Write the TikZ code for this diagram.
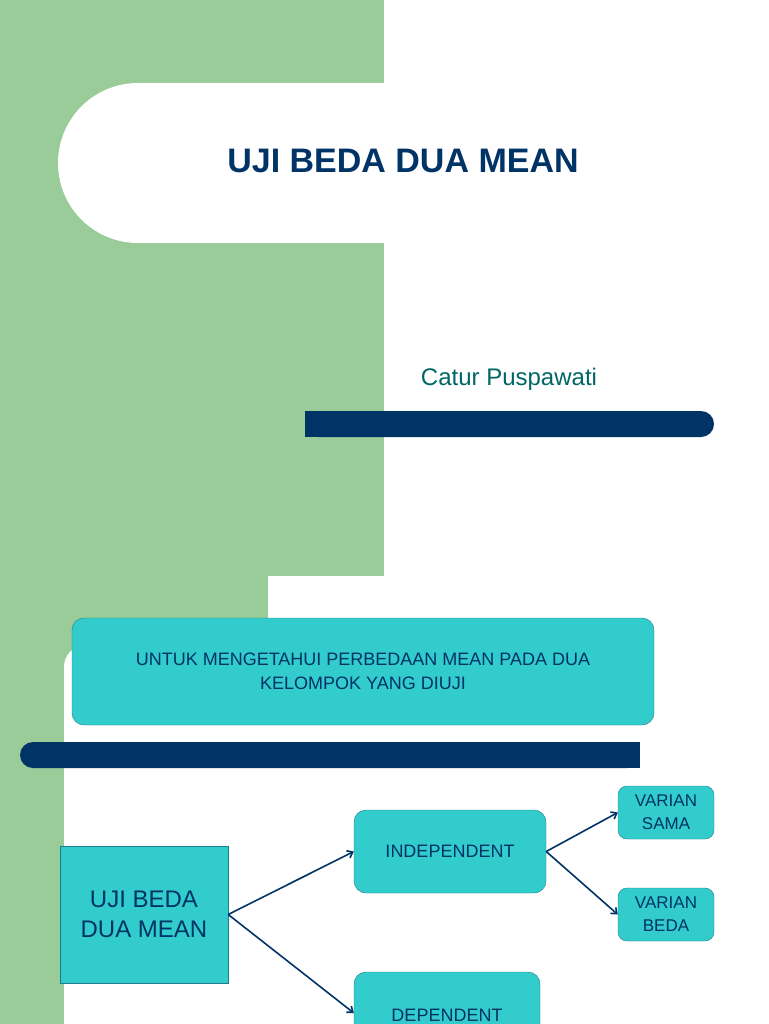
\documentclass[tikz,border=0pt]{standalone}
\usepackage{fontspec}
\setmainfont{Liberation Sans}
\usetikzlibrary{arrows.meta}
\definecolor{grn}{HTML}{99CC99}
\definecolor{navy}{HTML}{003366}
\definecolor{tq}{HTML}{33CCCC}
\definecolor{tqd}{HTML}{1A7F8A}
\definecolor{tealt}{HTML}{006666}
\tikzset{
 box/.style={draw=tqd,fill=tq,rounded corners=12pt,text=navy,align=center,inner sep=0pt},
 arr/.style={draw=navy,line width=1.6pt,-{Straight Barb[length=5pt,width=8pt]}}
}
\begin{document}
\begin{tikzpicture}[x=1pt,y=-1pt]
\useasboundingbox (0,0) rectangle (768,1024);
\fill[white] (0,0) rectangle (768,1024);
\fill[grn] (0,0) rectangle (384,576);
\fill[grn] (0,576) rectangle (268,1024);
\fill[white,rounded corners=80pt] (58,83) rectangle (900,243);
\fill[white] (400,83) rectangle (768,243);
\fill[white,rounded corners=22pt] (64,645) rectangle (800,1100);
\fill[white] (300,645) rectangle (768,1024);
\node[text=navy,font=\fontsize{34}{40}\selectfont\bfseries] (title) at (403,161) {UJI BEDA DUA MEAN};
\node[text=tealt,font=\fontsize{24}{28}\selectfont] (auth) at (509,379) {Catur Puspawati};
\fill[navy,rounded corners=13pt] (305,411) rectangle (714,437);
\fill[navy] (305,411) rectangle (690,437);
\node[box,minimum width=582pt,minimum height=107pt,font=\fontsize{18}{24}\selectfont] (def) at (363,671.5) {UNTUK MENGETAHUI PERBEDAAN MEAN PADA DUA\\KELOMPOK YANG DIUJI};
\fill[navy,rounded corners=13pt] (20,742) rectangle (640,768);
\fill[navy] (40,742) rectangle (640,768);
\node[box,rounded corners=0pt,minimum width=168pt,minimum height=137pt,font=\fontsize{24}{30}\selectfont] (uji) at (144,914.5) {UJI BEDA\\DUA MEAN};
\node[box,minimum width=192pt,minimum height=83pt,font=\fontsize{18}{22}\selectfont] (ind) at (450,851.5) {INDEPENDENT};
\node[box,rounded corners=9pt,minimum width=96pt,minimum height=53pt,font=\fontsize{17}{23}\selectfont] (vs) at (666,812.5) {VARIAN\\SAMA};
\node[box,rounded corners=9pt,minimum width=96pt,minimum height=53pt,font=\fontsize{17}{23}\selectfont] (vb) at (666,914.5) {VARIAN\\BEDA};
\node[box,minimum width=186pt,minimum height=100pt,font=\fontsize{18}{22}\selectfont] (dep) at (447,1022) {\raisebox{14pt}{DEPENDENT}};
\draw[arr] (uji.east) -- (ind.west);
\draw[arr] (uji.east) -- (dep.west|-0,1013);
\draw[arr] (ind.east) -- (vs.west);
\draw[arr] (ind.east) -- (vb.west);
\end{tikzpicture}
\end{document}
